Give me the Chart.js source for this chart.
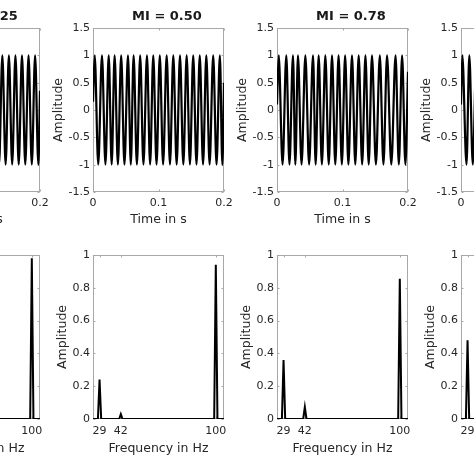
<!DOCTYPE html>
<html>
<head>
<meta charset="utf-8">
<script src="https://cdn.jsdelivr.net/npm/chart.js@4.4.1/dist/chart.umd.min.js"></script>
<style>
  html, body { margin: 0; padding: 0; background: #fff; }
  #fig { position: relative; width: 474px; height: 474px; overflow: hidden; }
  #fig canvas { position: absolute; }
</style>
</head>
<body>
<div id="fig"></div>
<script>
// ======================= DATA =======================

const panelTitles = ['MI = 0.25', 'MI = 0.50', 'MI = 0.78', ''];
const timeTicks = [0, 0.1, 0.2];
const ampTicksTop = [-1.5, -1, -0.5, 0, 0.5, 1, 1.5];
const ampTicksBottom = [0, 0.2, 0.4, 0.6, 0.8, 1];
const freqTicks = [29, 42, 100];

// time signals (extrema)
const waveT025 = [0, 0.0025, 0.0075, 0.0125, 0.0175, 0.0225, 0.0275, 0.0325, 0.0375, 0.0425, 0.0475,
  0.0525, 0.0575, 0.0625, 0.0675, 0.0725, 0.0775, 0.0825, 0.0875, 0.0925, 0.0975, 0.1025, 0.1075,
  0.1125, 0.1175, 0.1225, 0.1275, 0.1325, 0.1375, 0.1425, 0.1475, 0.1525, 0.1575, 0.1625, 0.1675,
  0.1725, 0.1775, 0.1825, 0.1875, 0.1925, 0.1975, 0.2];
const waveY025 = [0.1, 1, -1, 1, -1, 1, -1, 1, -1, 1, -1, 1, -1, 1, -1, 1, -1, 1, -1, 1, -1,
  1, -1, 1, -1, 1, -1, 1, -1, 1, -1, 1, -1, 1, -1, 1, -1, 1, -1, 1, -1, 0.35];

const waveT050 = [0, 0.0026, 0.008, 0.0137, 0.019, 0.024, 0.0285, 0.033, 0.038, 0.043, 0.048,
  0.0534, 0.0577, 0.062, 0.067, 0.072, 0.077, 0.0824, 0.0872, 0.092, 0.097, 0.102, 0.107,
  0.1125, 0.1175, 0.1226, 0.1277, 0.1328, 0.1379, 0.143, 0.148, 0.153, 0.158, 0.163, 0.168,
  0.173, 0.178, 0.1835, 0.1886, 0.1937, 0.1975, 0.2];
const waveY050 = [0.15, 1, -1, 1, -1, 1, -1, 1, -1, 1, -1, 1, -1, 1, -1, 1, -1, 1, -1, 1, -1,
  1, -1, 1, -1, 1, -1, 1, -1, 1, -1, 1, -1, 1, -1, 1, -1, 1, -1, 1, -1, 0.5];

const waveT078 = [0, 0.0026, 0.0085, 0.0142, 0.019, 0.0244, 0.028, 0.032, 0.0375, 0.0433, 0.049,
  0.055, 0.059, 0.0636, 0.0685, 0.0738, 0.079, 0.084, 0.089, 0.094, 0.099, 0.104, 0.109,
  0.1145, 0.1195, 0.1247, 0.13, 0.135, 0.14, 0.145, 0.151, 0.157, 0.1625, 0.168, 0.1745,
  0.181, 0.186, 0.191, 0.196, 0.2];
const waveY078 = [0.1, 1, -1, 1, -1, 1, -1, 1, -1, 1, -1, 1, -1, 1, -1, 1, -1, 1, -1, 1, -1,
  1, -1, 1, -1, 1, -1, 1, -1, 1, -1, 1, -1, 1, -1, 1, -1, 1, -1, 0.7];

const waveTLast = [0, 0.002, 0.0084, 0.0127, 0.018, 0.0235, 0.03, 0.0355, 0.041, 0.0465, 0.053,
  0.0585, 0.0635, 0.069, 0.075, 0.0805, 0.086, 0.0915, 0.097, 0.1025, 0.108, 0.1135, 0.1195,
  0.125, 0.1305, 0.136, 0.142, 0.1475, 0.1525, 0.158, 0.1645, 0.17, 0.1755, 0.181, 0.187,
  0.1925, 0.198, 0.2];
const waveYLast = [0.1, 1, -1, 1, -1, 1, -1, 1, -1, 1, -1, 1, -1, 1, -1, 1, -1, 1, -1, 1, -1,
  1, -1, 1, -1, 1, -1, 1, -1, 1, -1, 1, -1, 1, -1, 1, -1, -0.6];

// spectra
const specFreq = [25, 28, 29, 30, 41, 42, 43, 99, 100, 101, 105];
const spec025 = [0, 0, 0.12, 0, 0, 0.01, 0, 0, 0.98, 0, 0];
const spec050 = [0, 0, 0.24, 0, 0, 0.03, 0, 0, 0.94, 0, 0];
const spec078 = [0, 0, 0.36, 0, 0, 0.073, 0, 0, 0.855, 0, 0];
const specLast = [0, 0, 0.48, 0, 0, 0.11, 0, 0, 0.78, 0, 0];

// ======================= LAYOUT =======================

const plotLefts = [-91, 93, 277, 461];
const plotW = 131;
const plotH = 164;
const yAxisW = 60;
const padRight = 20;

const textColor = '#262626';
const frameColor = '#a8a8a8';
const fontFamily = '"DejaVu Sans", "Liberation Sans", sans-serif';

const toPoints = (xs, ys) => xs.map((x, i) => ({ x: x, y: ys[i] }));
const fixedTicks = (values) => (scale) => { scale.ticks = values.map(v => ({ value: v })); };

// MATLAB-like box, inner ticks and offset bold title
const panelFrame = {
  id: 'panelFrame',
  beforeDatasetsDraw(chart) {
    const { ctx, chartArea: a, scales: { x, y } } = chart;
    const L = Math.round(a.left) + 0.5, R = Math.round(a.right) - 0.5;
    const T = Math.round(a.top) + 0.5, B = Math.round(a.bottom) - 0.5;
    ctx.save();
    ctx.strokeStyle = frameColor;
    ctx.lineWidth = 1;
    ctx.strokeRect(L, T, R - L, B - T);
    ctx.beginPath();
    x.ticks.forEach(t => {
      const px = Math.round(x.getPixelForValue(t.value)) + 0.5;
      ctx.moveTo(px, B); ctx.lineTo(px, B - 2);
      ctx.moveTo(px, T); ctx.lineTo(px, T + 2);
    });
    y.ticks.forEach(t => {
      const py = Math.round(y.getPixelForValue(t.value)) + 0.5;
      ctx.moveTo(L, py); ctx.lineTo(L + 2, py);
      ctx.moveTo(R, py); ctx.lineTo(R - 2, py);
    });
    ctx.stroke();
    ctx.restore();
  },
  afterDraw(chart, args, opts) {
    if (!opts.text) return;
    const { ctx, chartArea: a } = chart;
    ctx.save();
    ctx.fillStyle = '#1a1a1a';
    ctx.font = 'bold 13px ' + fontFamily;
    ctx.textAlign = 'center';
    ctx.textBaseline = 'middle';
    ctx.fillText(opts.text, (a.left + a.right) / 2 + 8.5, a.top - 11.3);
    ctx.restore();
  }
};

function renderPanel(col, row, points, opts) {
  const padTop = row === 0 ? 28 : 12;
  const xAxisH = row === 0 ? 36 : 38;
  const plotTop = row === 0 ? 28 : 255;

  const canvas = document.createElement('canvas');
  canvas.width = yAxisW + plotW + padRight;
  canvas.height = padTop + plotH + xAxisH;
  canvas.style.left = (plotLefts[col] - yAxisW) + 'px';
  canvas.style.top = (plotTop - padTop) + 'px';
  document.getElementById('fig').appendChild(canvas);

  const tickFont = { family: fontFamily, size: 11 };
  const labelFont = { family: fontFamily, size: 12.5 };

  return new Chart(canvas, {
    type: 'line',
    data: {
      datasets: [{
        data: points,
        borderColor: '#000',
        borderWidth: row === 0 ? 2.2 : 2,
        pointRadius: 0,
        fill: false,
        cubicInterpolationMode: row === 0 ? 'monotone' : 'default',
        tension: 0
      }]
    },
    plugins: [panelFrame],
    options: {
      responsive: false,
      animation: false,
      events: [],
      layout: { padding: { top: padTop, right: padRight, left: 0, bottom: 0 } },
      plugins: {
        legend: { display: false },
        tooltip: { enabled: false },
        panelFrame: { text: opts.title }
      },
      scales: {
        x: {
          type: 'linear',
          min: opts.xMin,
          max: opts.xMax,
          afterBuildTicks: fixedTicks(opts.xTicks),
          afterFit: (scale) => { scale.height = xAxisH; },
          grid: { display: false, drawTicks: false },
          border: { display: false },
          ticks: {
            color: textColor,
            font: tickFont,
            padding: row === 0 ? 5 : 6,
            maxRotation: 0,
            autoSkip: false,
            callback: (v) => String(v)
          },
          title: {
            display: true,
            text: opts.xLabel,
            color: textColor,
            font: labelFont,
            padding: { top: 0, bottom: row === 0 ? 0.5 : 0.8 }
          }
        },
        y: {
          type: 'linear',
          min: opts.yMin,
          max: opts.yMax,
          afterBuildTicks: fixedTicks(opts.yTicks),
          afterFit: (scale) => { scale.width = yAxisW; },
          grid: { display: false, drawTicks: false },
          border: { display: false },
          ticks: {
            color: textColor,
            font: tickFont,
            padding: 3,
            autoSkip: false,
            callback: (v) => String(v)
          },
          title: {
            display: true,
            text: 'Amplitude',
            color: textColor,
            font: labelFont,
            padding: { top: row === 0 ? 18.5 : 22, bottom: 0 }
          }
        }
      }
    }
  });
}

// ======================= RENDER =======================

const waves = [
  toPoints(waveT025, waveY025),
  toPoints(waveT050, waveY050),
  toPoints(waveT078, waveY078),
  toPoints(waveTLast, waveYLast)
];
const spectra = [spec025, spec050, spec078, specLast].map(s => toPoints(specFreq, s));

waves.forEach((pts, col) => renderPanel(col, 0, pts, {
  title: panelTitles[col],
  xMin: 0, xMax: 0.2, xTicks: timeTicks, xLabel: 'Time in s',
  yMin: -1.5, yMax: 1.5, yTicks: ampTicksTop
}));

spectra.forEach((pts, col) => renderPanel(col, 1, pts, {
  title: '',
  xMin: 25, xMax: 105, xTicks: freqTicks, xLabel: 'Frequency in Hz',
  yMin: 0, yMax: 1, yTicks: ampTicksBottom
}));
</script>
</body>
</html>
